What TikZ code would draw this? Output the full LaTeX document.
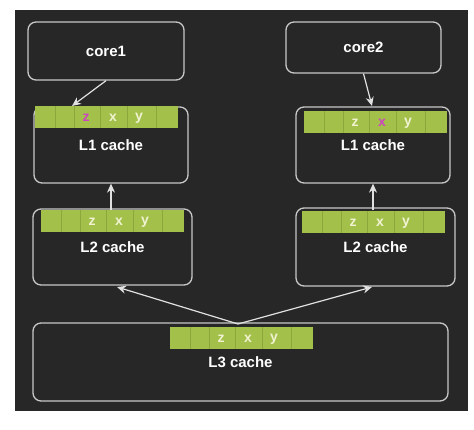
\documentclass[tikz,border=0pt]{standalone}
\usepackage{fontspec}
\setmainfont{Liberation Sans}
\usetikzlibrary{arrows.meta}
\definecolor{bgdark}{RGB}{39,39,39}
\definecolor{edgegray}{RGB}{200,200,200}
\definecolor{stripgreen}{RGB}{163,193,74}
\definecolor{divgreen}{RGB}{140,168,60}
\definecolor{lettercol}{RGB}{240,242,210}
\definecolor{magletter}{RGB}{205,70,190}
\definecolor{arrowcol}{RGB}{225,225,225}
\tikzset{
  cachebox/.style={draw=edgegray, line width=1.3pt, rounded corners=8pt, fill=bgdark,
    text=white, font=\fontsize{15}{17}\selectfont\bfseries, inner sep=0pt},
  stripbox/.style={fill=stripgreen, draw=none, minimum width=143pt, minimum height=22pt, inner sep=0pt},
  divider/.style={draw=divgreen, line width=0.6pt},
  cell/.style={font=\fontsize{14}{16}\selectfont\bfseries, inner sep=0pt},
  conn/.style={draw=arrowcol, line width=1.2pt, -{Stealth[length=9pt,width=8pt]}},
}
\newcommand{\cstrip}[5]{%
  \node[stripbox, anchor=north west] (#1) at (#2,#3) {};
  \foreach \d in {20,39,65,92,121}
    \draw[divider] ([xshift=\d pt]#1.north west) -- ([xshift=\d pt]#1.south west);
  \node[cell, text=#4] (#1z) at ([xshift=51pt,yshift=-1pt]#1.west) {z};
  \node[cell, text=#5] (#1x) at ([xshift=78pt,yshift=-1pt]#1.west) {x};
  \node[cell, text=lettercol] (#1y) at ([xshift=104pt,yshift=-1pt]#1.west) {y};
}
\begin{document}
\begin{tikzpicture}[x=1pt,y=-1pt]
\useasboundingbox (0,0) rectangle (474,430);
\fill[white] (0,0) rectangle (474,430);
\fill[bgdark] (15,10) rectangle (468,411);

\node[cachebox, minimum width=156pt, minimum height=58pt] (core1) at (106,51) {core1};
\node[cachebox, minimum width=155pt, minimum height=51pt] (core2) at (363.5,47.5) {core2};
\node[cachebox, minimum width=154pt, minimum height=76pt] (l1a) at (111,145) {L1 cache};
\node[cachebox, minimum width=154pt, minimum height=76pt] (l1b) at (373,145) {L1 cache};
\node[cachebox, minimum width=159pt, minimum height=76pt] (l2a) at (112.5,247) {L2 cache};
\node[cachebox, minimum width=159pt, minimum height=78pt] (l2b) at (375.5,247) {L2 cache};
\node[cachebox, minimum width=415pt, minimum height=78pt] (l3) at (240.5,362) {L3 cache};

\cstrip{s1a}{35}{106}{magletter}{lettercol}
\cstrip{s1b}{304}{111}{lettercol}{magletter}
\cstrip{s2a}{41}{210}{lettercol}{lettercol}
\cstrip{s2b}{302}{211}{lettercol}{lettercol}
\cstrip{s3}{170}{327}{lettercol}{lettercol}

\coordinate (c1end) at (72,106);
\coordinate (c2end) at (372,106);
\coordinate (l3top) at (238,324);
\coordinate (u1) at (111,210);
\coordinate (u2) at (373,210);
\coordinate (l2aend) at (117,287);
\coordinate (l2bend) at (372,287);
\draw[conn] (core1.south) -- (c1end);
\draw[conn] (core2.south) -- (c2end);
\draw[conn] (u1) -- (u1 |- l1a.south);
\draw[conn] (u2) -- (u2 |- l1b.south);
\draw[conn] (l3top) -- (l2aend);
\draw[conn] (l3top) -- (l2bend);
\end{tikzpicture}
\end{document}
